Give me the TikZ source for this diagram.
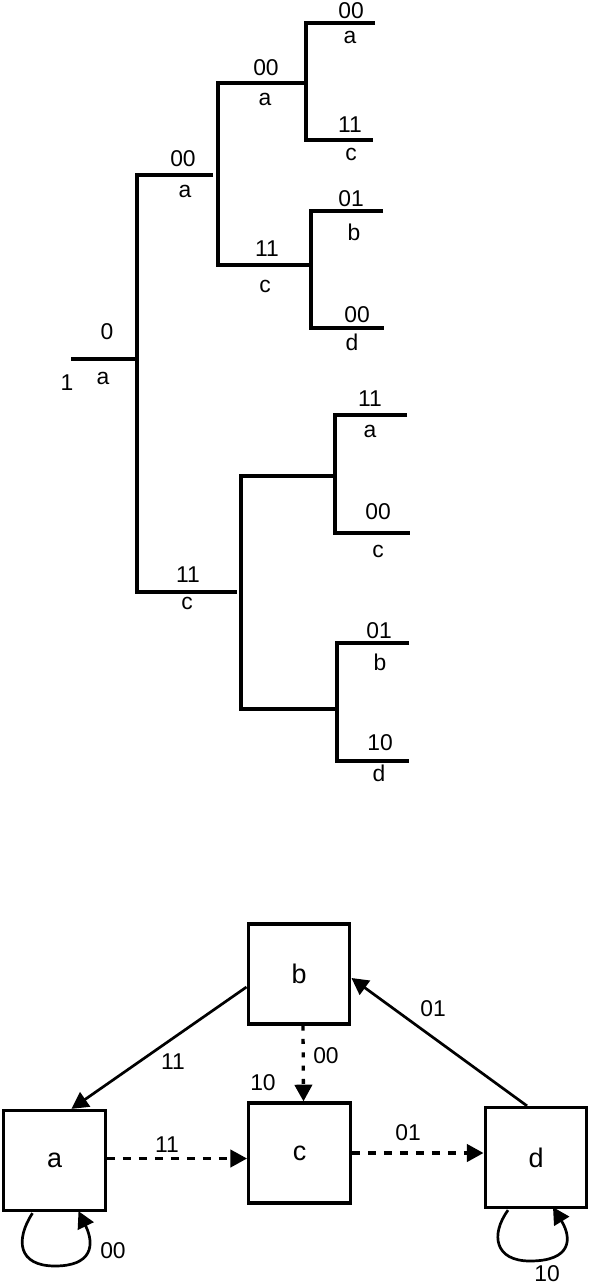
\documentclass[tikz,border=0pt]{standalone}
\usepackage{fontspec}
\setmainfont{Liberation Sans}
\usetikzlibrary{calc}
\usetikzlibrary{arrows.meta}
\tikzset{
    lab/.style={inner sep=0pt, font=\fontsize{19.5}{21}\selectfont},
    state/.style={draw, line width=2.8pt, minimum width=3.05cm, minimum height=3.0cm, inner sep=0pt, font=\fontsize{23}{25}\selectfont},
    trans/.style={line width=2.3pt, -{Triangle[length=0.5cm,width=0.52cm]}},
    dtrans/.style={trans, line width=2.8pt, dash pattern=on 0.24cm off 0.24cm},
    btrans/.style={trans, line width=2.8pt, dash pattern=on 0.15cm off 0.25cm}
}
\begin{document}
\begin{tikzpicture}[x=0.03cm,y=-0.03cm]
\useasboundingbox (0,0) rectangle (590,1287);
% tree
\begin{scope}[line width=2.8pt]
\draw (71,359) -- (137,359);
\foreach \x/\ya/\yb/\xa/\xb in {137/175/592/213/237, 218/83/265/306/309, 306/23/140/375/373, 311/211/328/383/384, 241/476/709/333/336, 335/415/533/407/410, 337/643/761/409/409}{
    \draw (\xa,\ya) -- (\x,\ya) -- (\x,\yb) -- (\xb,\yb);
}
\end{scope}
\foreach \x/\y/\p/\t in {107/332/r0/0, 103/378/r1/a, 67/383/r2/1, 183/159/u0/00, 185/191/u1/a, 188/575/l0/11, 187/603/l1/c, 266/68/uu0/00, 265/99/uu1/a, 267/249/ul0/11, 265/286/ul1/c, 351/11/uuu0/00, 350/37/uuu1/a, 350/125/uul0/11, 351/154/uul1/c, 351/199/ulu0/01, 354/232/ulu1/b, 357/315/ull0/00, 352/342/ull1/d, 370/399/llu0/11, 370/431/llu1/a, 378/512/lll0/00, 378/551/lll1/c, 379/631/lmu0/01, 380/662/lmu1/b, 380/743/lml0/10, 379/773/lml1/d}{
    \node[lab] (\p) at (\x,\y) {\t};
}
% state diagram
\node[state] (a) at (54.5,1160.5) {a};
\node[state] (b) at (299,974) {b};
\node[state] (c) at (299.5,1153) {c};
\node[state] (d) at (536,1157.5) {d};
\draw[trans] ($(b.west)+(0,13)$) -- ($(a.north)+(17,0)$);
\draw[trans] ($(d.north)+(-9,0)$) -- ($(b.east)+(0,4)$);
\draw[btrans] ($(b.south)+(4,0)$) -- ($(c.north)+(4,0)$);
\draw[dtrans] ($(a.east)+(0,-2)$) -- ($(a.east -| c.west)+(0,-2)$);
\draw[dtrans] (c.east) -- (c.east -| d.west);
\draw[trans] ($(a.south)+(-22,1)$) .. controls (15,1240) and (18,1266) .. (55,1266) .. controls (92,1266) and (95,1245) .. ($(a.south)+(24,-1)$);
\draw[trans] ($(d.south)+(-28,1)$) .. controls (490,1235) and (495,1261) .. (530,1261) .. controls (572,1261) and (572,1238) .. ($(d.south)+(17,-2)$);
\node[lab] (e1) at (173,1062) {11};
\node[lab] (e2) at (326,1056) {00};
\node[lab] (e3) at (263,1083) {10};
\node[lab] (e4) at (167,1145) {11};
\node[lab] (e5) at (408,1133) {01};
\node[lab] (e6) at (433,1009) {01};
\node[lab] (e7) at (113,1251) {00};
\node[lab] (e8) at (547,1274) {10};
\end{tikzpicture}
\end{document}
